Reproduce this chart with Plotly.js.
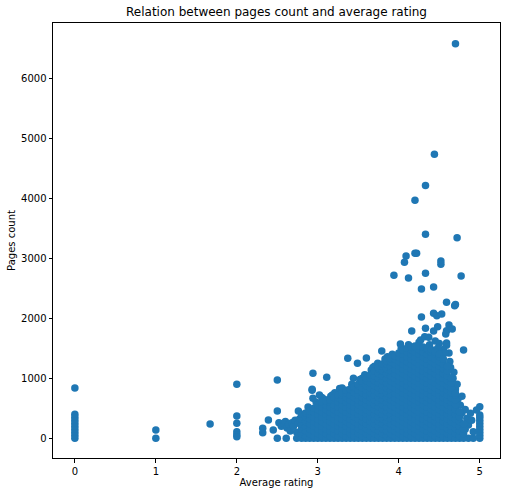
<!DOCTYPE html>
<html>
<head>
<meta charset="utf-8">
<script src="https://cdn.plot.ly/plotly-3.0.1.min.js"></script>
<style>html,body{margin:0;padding:0;background:#fff;}#chart{width:506px;height:496px;}</style>
</head>
<body>
<div id="chart"></div>
<script>
// Zero- and low-rated books
var zeroRatingPages = [0, 50, 100, 150, 200, 250, 300, 350, 400, 838];
var oneRatingPages = [0, 138];
var fiveRatingPages = [0, 50, 100, 150, 200, 250, 300, 350, 390, 527];

// Scattered books (rating, pages)
var scatterRatings = [1.67, 2.0, 2.0, 2.0, 2.0, 2.0, 2.0, 2.32, 2.32, 2.39, 2.45, 2.5, 2.5, 2.5,
  2.52, 2.55, 2.58, 2.6, 2.61, 2.62, 2.64, 2.66, 2.68, 2.7, 2.72, 2.74, 2.74, 2.76, 2.76, 2.78,
  2.93, 2.93, 2.94, 2.94, 3.02, 3.11, 3.21, 3.33, 3.44, 3.37, 3.49, 3.6, 3.79, 3.86, 3.96,
  4.02, 4.16, 4.27, 4.32, 4.37, 4.59, 4.59, 4.8, 4.33, 4.43, 4.48, 4.59, 4.62, 4.66, 4.58,
  4.28, 4.43, 4.47, 4.53, 4.59, 4.69, 4.7, 4.28, 4.43, 3.94, 4.12, 4.33, 4.77, 4.52, 4.52,
  4.09, 4.07, 4.2, 4.22, 4.33, 4.72, 4.2, 4.33, 4.44, 4.7,
  4.25, 4.45, 4.5, 4.55, 4.62, 4.64, 4.67, 4.7, 4.73, 4.76, 4.78, 3.7, 3.66, 3.55, 3.27, 3.16,
  4.84, 4.86, 4.86, 4.885, 4.9, 4.92, 4.92, 4.96,
  3.05, 3.18, 3.3, 3.42, 3.52, 3.58, 3.68, 3.74, 3.83, 3.92, 4.03, 4.12, 4.38, 4.48, 4.57,
  4.63, 4.68, 4.72, 4.78, 4.82, 4.82, 2.88, 2.98, 3.08];
var scatterPages = [238, 900, 372, 250, 110, 60, 27, 167, 93, 305, 138, 972, 455, 0,
  260, 200, 250, 280, 0, 170, 230, 120, 260, 200, 300, 100, 0, 250, 455, 330,
  817, 800, 1083, 667, 722, 1017, 760, 760, 1000, 1333, 1250, 1340, 1455, 1360, 1360,
  1572, 1788, 1638, 1693, 1683, 1588, 1550, 1472, 1833, 1788, 1860, 1793, 1888, 1822, 1738,
  2022, 2083, 2043, 2072, 2267, 2210, 2230, 2488, 2522, 2717, 2672, 2750, 2705, 2955, 2900,
  3040, 2933, 3967, 3083, 3400, 3342, 3083, 4212, 4736, 6576,
  1600, 1620, 1580, 1480, 1420, 1180, 1000, 820, 650, 550, 420, 1200, 1140, 1000, 830, 700,
  330, 0, 222, 417, 300, 0, 110, 470,
  680, 720, 840, 900, 980, 1060, 1180, 1250, 1320, 1400, 1500, 1560, 1560, 1500, 1420,
  1280, 1100, 900, 700, 480, 150, 520, 600, 650];

// Dense core of books, one column of page counts per rating
var coreRatings = [2.80, 2.85, 2.90, 2.95, 3.00, 3.05, 3.10, 3.15, 3.20, 3.25, 3.30, 3.35, 3.40,
  3.45, 3.50, 3.55, 3.60, 3.65, 3.70, 3.75, 3.80, 3.85, 3.90, 3.95, 4.00, 4.05, 4.10, 4.15,
  4.20, 4.25, 4.30, 4.35, 4.40, 4.45, 4.50, 4.55, 4.60, 4.65, 4.70, 4.75, 4.80];
var corePages = [
  [0,80,160,240,320,400],
  [0,40,120,200,280,360,420],
  [0,80,160,240,320,400,450],
  [0,40,120,200,280,360,440,500],
  [0,80,160,240,320,400,480,560],
  [0,40,120,200,280,360,440,520,600],
  [0,80,160,240,320,400,480,560,620],
  [0,40,120,200,280,360,440,520,600,640],
  [0,80,160,240,320,400,480,560,640,680],
  [0,40,120,200,280,360,440,520,600,680,720],
  [0,80,160,240,320,400,480,560,640,720,760],
  [0,40,120,200,280,360,440,520,600,680,760,800],
  [0,80,160,240,320,400,480,560,640,720,800,820],
  [0,40,120,200,280,360,440,520,600,680,760,840,860],
  [0,80,160,240,320,400,480,560,640,720,800,880,900],
  [0,40,120,200,280,360,440,520,600,680,760,840,920,950],
  [0,80,160,240,320,400,480,560,640,720,800,880,960,1000],
  [0,40,120,200,280,360,440,520,600,680,760,840,920,1000,1060],
  [0,80,160,240,320,400,480,560,640,720,800,880,960,1040,1120],
  [0,40,120,200,280,360,440,520,600,680,760,840,920,1000,1080,1160,1180],
  [0,80,160,240,320,400,480,560,640,720,800,880,960,1040,1120,1200,1240],
  [0,40,120,200,280,360,440,520,600,680,760,840,920,1000,1080,1160,1240,1290],
  [0,80,160,240,320,400,480,560,640,720,800,880,960,1040,1120,1200,1280,1330],
  [0,40,120,200,280,360,440,520,600,680,760,840,920,1000,1080,1160,1240,1320,1370],
  [0,80,160,240,320,400,480,560,640,720,800,880,960,1040,1120,1200,1280,1360,1420],
  [0,40,120,200,280,360,440,520,600,680,760,840,920,1000,1080,1160,1240,1320,1400,1470],
  [0,80,160,240,320,400,480,560,640,720,800,880,960,1040,1120,1200,1280,1360,1440,1500],
  [0,40,120,200,280,360,440,520,600,680,760,840,920,1000,1080,1160,1240,1320,1400,1480,1520],
  [0,80,160,240,320,400,480,560,640,720,800,880,960,1040,1120,1200,1280,1360,1440,1520,1540],
  [0,40,120,200,280,360,440,520,600,680,760,840,920,1000,1080,1160,1240,1320,1400,1480,1540],
  [0,80,160,240,320,400,480,560,640,720,800,880,960,1040,1120,1200,1280,1360,1440,1520],
  [0,40,120,200,280,360,440,520,600,680,760,840,920,1000,1080,1160,1240,1320,1400,1480,1500],
  [0,80,160,240,320,400,480,560,640,720,800,880,960,1040,1120,1200,1280,1360,1440,1480],
  [0,40,120,200,280,360,440,520,600,680,760,840,920,1000,1080,1160,1240,1320,1400,1440],
  [0,80,160,240,320,400,480,560,640,720,800,880,960,1040,1120,1200,1280,1360,1400],
  [0,40,120,200,280,360,440,520,600,680,760,840,920,1000,1080,1160,1240,1320],
  [0,80,160,240,320,400,480,560,640,720,800,880,960,1040,1120,1200],
  [0,40,120,200,280,360,440,520,600,680,760,840,920,1000],
  [0,80,160,240,320,400,480,560,640,720,750],
  [0,40,120,200,280,360,440],
  [0,80,160,240]
];

var xs = [], ys = [];
zeroRatingPages.forEach(function (p) { xs.push(0); ys.push(p); });
oneRatingPages.forEach(function (p) { xs.push(1); ys.push(p); });
fiveRatingPages.forEach(function (p) { xs.push(5); ys.push(p); });
scatterRatings.forEach(function (r, i) { xs.push(r); ys.push(scatterPages[i]); });
coreRatings.forEach(function (r, i) {
  corePages[i].forEach(function (p) { xs.push(r); ys.push(p); });
});

var trace = {
  type: 'scatter', mode: 'markers', x: xs, y: ys,
  marker: {color: '#1f77b4', size: 7.5, line: {width: 0}},
  hoverinfo: 'x+y'
};

var axisCommon = {
  showline: true, mirror: true, linecolor: '#000', linewidth: 1,
  showgrid: false, zeroline: false,
  ticks: 'outside', ticklen: 3.5, tickwidth: 1, tickcolor: '#000',
  tickfont: {family: 'DejaVu Sans', size: 10, color: '#000'}
};

var layout = {
  width: 506, height: 496,
  margin: {l: 53, r: 6, t: 23, b: 38, pad: 0},
  paper_bgcolor: '#fff', plot_bgcolor: '#fff',
  showlegend: false,
  font: {family: 'DejaVu Sans', color: '#000'},
  title: {text: 'Relation between pages count and average rating',
    font: {family: 'DejaVu Sans', size: 12, color: '#000'},
    x: 0.5, xref: 'paper', y: 1 - 12 / 496, yref: 'container', yanchor: 'middle'},
  xaxis: Object.assign({}, axisCommon, {
    range: [-0.27, 5.25], tickvals: [0, 1, 2, 3, 4, 5],
    title: {text: 'Average rating', font: {family: 'DejaVu Sans', size: 10, color: '#000'}, standoff: 3}
  }),
  yaxis: Object.assign({}, axisCommon, {
    range: [-328, 6922], tickvals: [0, 1000, 2000, 3000, 4000, 5000, 6000],
    title: {text: 'Pages count', font: {family: 'DejaVu Sans', size: 10, color: '#000'}, standoff: 3}
  })
};

Plotly.newPlot('chart', [trace], layout, {staticPlot: true, displayModeBar: false});
</script>
</body>
</html>
